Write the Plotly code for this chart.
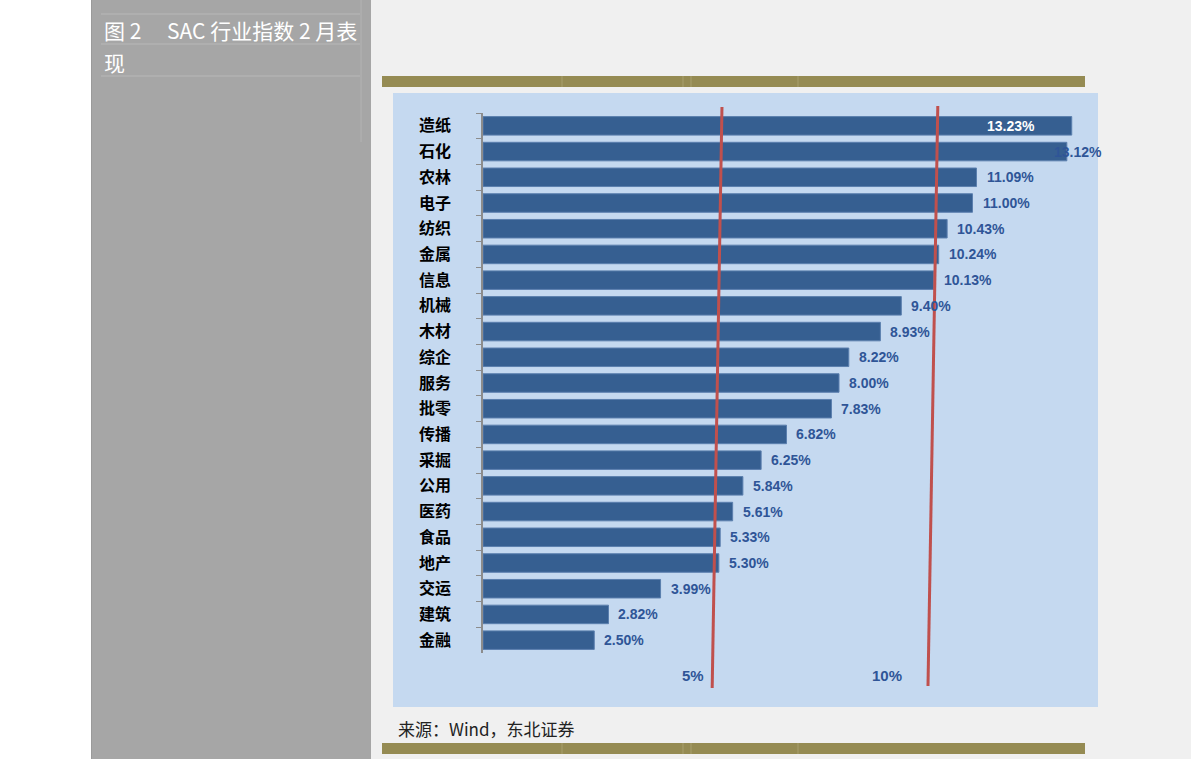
import plotly.graph_objects as go

categories = ["造纸", "石化", "农林", "电子", "纺织", "金属", "信息", "机械", "木材", "综企",
              "服务", "批零", "传播", "采掘", "公用", "医药", "食品", "地产", "交运", "建筑", "金融"]
values = [13.23, 13.12, 11.09, 11.00, 10.43, 10.24, 10.13, 9.40, 8.93, 8.22,
          8.00, 7.83, 6.82, 6.25, 5.84, 5.61, 5.33, 5.30, 3.99, 2.82, 2.50]
value_labels = [f"{v:.2f}%" for v in values]
marker_labels = ["5%", "10%"]
title_line1 = "图 2\u3000 SAC 行业指数 2 月表"
title_line2 = "现"
source_text = "来源：Wind，东北证券"

W, H = 1191, 759
L, R, T, B = 483, 93, 113, 106
PW, PH = W - L - R, H - T - B
XMAX = PW / 44.5


def px(x):
    return (x - L) / PW


def py(y):
    return (H - B - y) / PH


fig = go.Figure()
fig.add_trace(go.Bar(
    y=categories, x=values, orientation="h",
    marker=dict(color="#365F91", line=dict(color="#5B7FAE", width=1)),
    width=0.72, hoverinfo="skip",
))

shapes = []
# left grey panel
shapes.append(dict(type="rect", xref="paper", yref="paper", x0=px(91), x1=px(371), y0=py(759), y1=py(0),
                   fillcolor="#A6A6A6", line=dict(width=0), layer="below"))
shapes.append(dict(type="line", xref="paper", yref="paper", x0=px(91.5), x1=px(91.5), y0=py(759), y1=py(0),
                   line=dict(color="#9A9A9A", width=1), layer="below"))
for yy in (14, 44, 76):
    shapes.append(dict(type="line", xref="paper", yref="paper", x0=px(101), x1=px(360), y0=py(yy), y1=py(yy),
                       line=dict(color="#B8B8B8", width=1), layer="below"))
shapes.append(dict(type="line", xref="paper", yref="paper", x0=px(361), x1=px(361), y0=py(0), y1=py(142),
                   line=dict(color="#B3B3B3", width=1), layer="below"))
# right page background
shapes.append(dict(type="rect", xref="paper", yref="paper", x0=px(371), x1=px(1191), y0=py(759), y1=py(0),
                   fillcolor="#F0F0F0", line=dict(width=0), layer="below"))
# gold bars
for y0, y1 in ((76, 87), (743, 754)):
    shapes.append(dict(type="rect", xref="paper", yref="paper", x0=px(382), x1=px(1085), y0=py(y1), y1=py(y0),
                       fillcolor="#958B53", line=dict(width=0), layer="below"))
    for sx in (562, 683, 691, 798):
        shapes.append(dict(type="line", xref="paper", yref="paper", x0=px(sx), x1=px(sx), y0=py(y1), y1=py(y0),
                           line=dict(color="#A89F6E", width=1), layer="below"))
# blue chart panel
shapes.append(dict(type="rect", xref="paper", yref="paper", x0=px(393), x1=px(1098), y0=py(707), y1=py(93),
                   fillcolor="#C5D9F0", line=dict(width=0), layer="below"))
# red marker lines (hand drawn, slightly tilted)
for xt, xb, ytop, ybot in ((5.37, 5.15, 107, 688), (10.22, 10.0, 106, 686)):
    shapes.append(dict(type="line", xref="x", yref="paper", x0=xt, x1=xb, y0=py(ytop), y1=py(ybot),
                       line=dict(color="#C0504D", width=3), layer="above"))

annotations = []
for i, (c, v, t) in enumerate(zip(categories, values, value_labels)):
    if i == 0:
        annotations.append(dict(x=v, y=c, xref="x", yref="y", text=f"<b>{t}</b>", showarrow=False,
                                xanchor="right", xshift=-35,
                                font=dict(family="Liberation Sans", size=14, color="#FFFFFF")))
    else:
        shift = -15 if i == 1 else 8
        annotations.append(dict(x=v, y=c, xref="x", yref="y", text=f"<b>{t}</b>", showarrow=False,
                                xanchor="left", xshift=shift,
                                font=dict(family="Liberation Sans", size=14, color="#2F5597")))
for lab, xp in zip(marker_labels, (693, 887)):
    annotations.append(dict(x=px(xp), y=py(675), xref="paper", yref="paper", text=f"<b>{lab}</b>",
                            showarrow=False, xanchor="center", yanchor="middle",
                            font=dict(family="Liberation Sans", size=15, color="#2F5597")))
annotations.append(dict(x=px(102), y=py(30), xref="paper", yref="paper", text=title_line1, showarrow=False,
                        xanchor="left", yanchor="middle",
                        font=dict(family="Noto Sans CJK SC", size=21, color="#FFFFFF")))
annotations.append(dict(x=px(102), y=py(62), xref="paper", yref="paper", text=title_line2, showarrow=False,
                        xanchor="left", yanchor="middle",
                        font=dict(family="Noto Sans CJK SC", size=21, color="#FFFFFF")))
annotations.append(dict(x=px(396), y=py(728), xref="paper", yref="paper", text=source_text, showarrow=False,
                        xanchor="left", yanchor="middle",
                        font=dict(family="Noto Sans CJK SC", size=17, color="#222222")))

fig.update_layout(
    width=W, height=H,
    margin=dict(l=L, r=R, t=T, b=B, pad=0),
    paper_bgcolor="#FFFFFF",
    plot_bgcolor="rgba(0,0,0,0)",
    showlegend=False,
    shapes=shapes,
    annotations=annotations,
    bargap=0.28,
    xaxis=dict(range=[0, XMAX], visible=False, fixedrange=True),
    yaxis=dict(
        type="category", categoryorder="array", categoryarray=categories,
        autorange="reversed",
        showline=True, linecolor="#8C8C8C", linewidth=1.5,
        ticks="outside", tickson="boundaries", ticklen=5, tickcolor="#8C8C8C",
        ticklabelstandoff=27, showgrid=False, zeroline=False,
        tickfont=dict(family="Noto Sans CJK SC", size=16, color="#000000", weight="bold"),
    ),
)

fig.write_html("out.html")
